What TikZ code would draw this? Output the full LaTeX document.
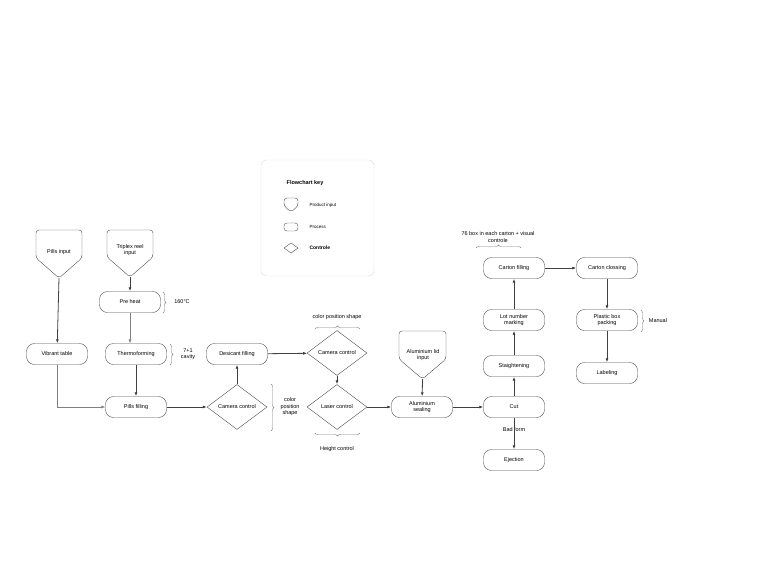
\documentclass[tikz,border=0pt]{standalone}
\usepackage{fontspec}
\setmainfont{Liberation Sans}
\usetikzlibrary{shapes.geometric,arrows.meta,decorations.pathreplacing}
\tikzset{
  proc/.style={draw=black!70,rounded corners=8pt,minimum width=61pt,minimum height=21pt,align=center,font=\fontsize{5.5}{6.5}\selectfont,inner sep=1pt},
  ctrl/.style={draw=black!70,diamond,minimum width=60pt,minimum height=45pt,aspect=1.35,inner sep=0pt,font=\fontsize{5.5}{6.5}\selectfont},
  lbl/.style={font=\fontsize{5.5}{6.5}\selectfont,align=center},
  ln/.style={draw=black!75,line width=0.8pt,-{Latex[length=4pt,width=3pt]}},
  thin/.style={draw=black!50,line width=0.5pt,-{Latex[length=4pt,width=3pt]}},
  br/.style={draw=black!50,decorate,decoration={brace,amplitude=3pt}},
  pin/.style={draw=black!70,rounded corners=3pt}
}
\newcommand\pinput[5]{% name, xl, xr, top, tip
  \path[pin] ({(#2+#3)/2},#5) -- (#2,{#5-20}) -- (#2,#4) -- (#3,#4) -- (#3,{#5-20}) -- cycle;
  \coordinate (#1tip) at ({(#2+#3)/2},#5);}
\begin{document}
\begin{tikzpicture}[x=1pt,y=-1pt]
\useasboundingbox (0,0) rectangle (768,576);
% key
\draw[black!15,rounded corners=5pt] (261,160) rectangle (374,276);
\node[lbl,font=\fontsize{5.5}{6.5}\selectfont\bfseries] (kt) at (305,183) {Flowchart key};
\path[pin] (291,212) -- (284,206) -- (284,198) -- (298,198) -- (298,206) -- cycle;
\node[lbl,anchor=west,font=\fontsize{4.5}{5.5}\selectfont] (k1) at (306,205) {Product input};
\draw[black!70,rounded corners=3pt] (284,223) rectangle (298,231);
\node[lbl,anchor=west,font=\fontsize{4.5}{5.5}\selectfont] (k2) at (306,227) {Process};
\draw[black!70] (284,248) -- (291,243) -- (298,248) -- (291,253) -- cycle;
\node[lbl,anchor=west,font=\fontsize{5}{6}\selectfont\bfseries] (k3) at (306,248) {Controle};
% inputs
\pinput{pi}{36}{82}{230}{278}
\node[lbl] (pillsin) at (59,252) {Pills input};
\pinput{tr}{107}{153}{230}{277}
\node[lbl] (triplex) at (130,250) {Triplex reel\\input};
\pinput{al}{399}{446}{331}{379}
\node[lbl] (alin) at (423,355) {Aluminium lid\\input};
% processes
\node[proc] (pre) at (130,302) {Pre heat};
\node[proc] (thermo) at (136,354) {Thermoforming};
\node[proc] (vib) at (57,354) {Vibrant table};
\node[proc] (fill) at (136,407) {Pills filling};
\node[ctrl] (cam1) at (237,407) {Camera control};
\node[proc] (des) at (237,354) {Desicant filling};
\node[ctrl] (cam2) at (337,353) {Camera control};
\node[ctrl] (laser) at (337,407) {Laser control};
\node[proc] (seal) at (422,407) {Aluminium\\sealing};
\node[proc] (cut) at (514,407) {Cut};
\node[proc] (ej) at (514,460) {Ejection};
\node[proc] (str) at (514,366) {Staightening};
\node[proc] (lot) at (514,320) {Lot number\\marking};
\node[proc] (carf) at (514,268) {Carton filling};
\node[proc] (carc) at (607,268) {Carton clossing};
\node[proc] (plast) at (607,320) {Plastic box\\packing};
\node[proc] (labl) at (607,373) {Labeling};
% annotations
\draw[br] (163,292) -- (163,313);
\node[lbl] (t160) at (182,302) {160°C};
\draw[br] (170,344) -- (170,365);
\node[lbl] (t71) at (188,354) {7+1\\cavity};
\draw[br] (271,384) -- (271,431);
\node[lbl] (tcps1) at (290,407) {color\\position\\shape};
\draw[br] (315,329) -- (360,329);
\node[lbl] (tcps2) at (337,317) {color position shape};
\draw[br] (360,433) -- (315,433);
\node[lbl] (thc) at (337,449) {Height control};
\draw[br] (476,248) -- (521,248);
\node[lbl] (t76) at (498,237) {76 box in each carton + visual\\controle};
\draw[br] (641,310) -- (641,332);
\node[lbl] (tman) at (658,321) {Manual};
\node[lbl] (tbad) at (514,430) {Bad form};
% connectors
\draw[ln] (pitip) -- (vib);
\draw[thin] (vib.south) |- (fill.west);
\draw[ln] (trtip) -- (pre);
\draw[thin] (pre) -- (thermo.north -| pre);
\draw[ln] (thermo) -- (fill);
\draw[ln] (fill) -- (cam1);
\draw[ln] (cam1) -- (des);
\draw[ln] (des) -- (cam2);
\draw[ln] (cam2) -- (laser);
\draw[ln] (laser) -- (seal);
\draw[ln] (altip) -- (seal);
\draw[ln] (seal) -- (cut);
\draw[ln] (cut) -- (ej);
\draw[ln] (cut) -- (str);
\draw[ln] (str) -- (lot);
\draw[ln] (lot) -- (carf);
\draw[ln] (carf) -- (carc);
\draw[ln] (carc) -- (plast);
\draw[ln] (plast) -- (labl);
\end{tikzpicture}
\end{document}
